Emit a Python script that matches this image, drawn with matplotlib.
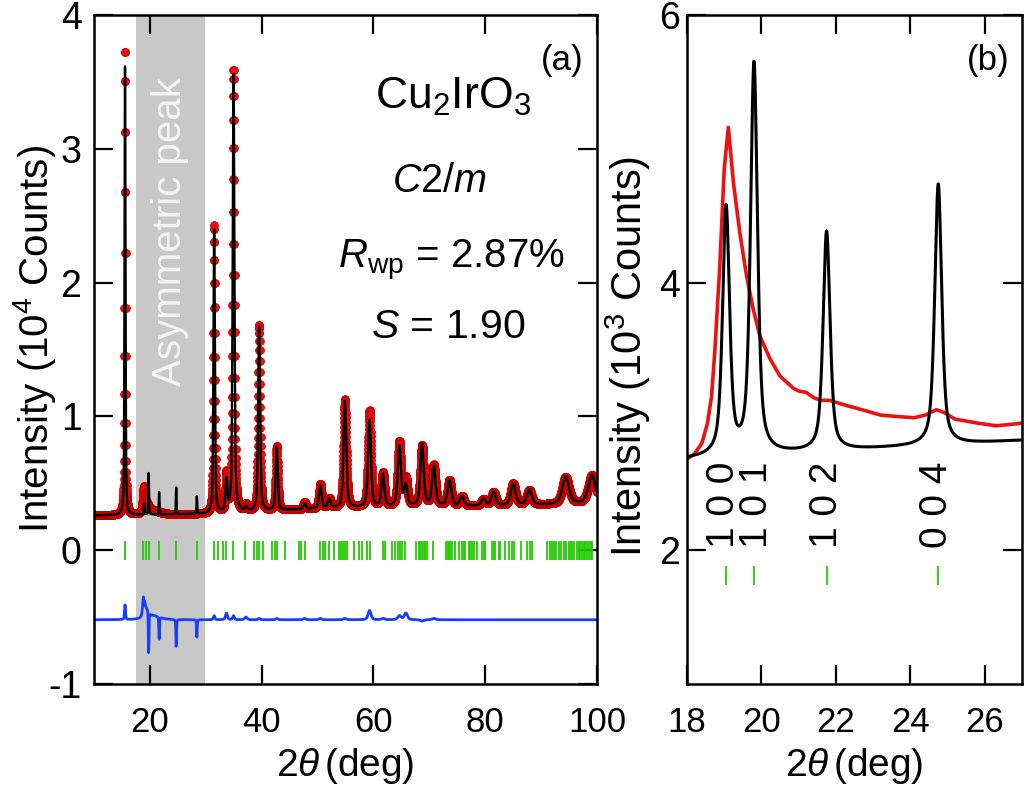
import numpy as np
import matplotlib
matplotlib.use("Agg")
import matplotlib.pyplot as plt

plt.rcParams['font.family'] = ['Liberation Sans', 'DejaVu Sans']
plt.rcParams['mathtext.fontset'] = 'custom'
plt.rcParams['mathtext.rm'] = 'Liberation Sans'
plt.rcParams['mathtext.it'] = 'Liberation Sans:italic'
plt.rcParams['mathtext.bf'] = 'Liberation Sans:bold'
plt.rcParams['axes.unicode_minus'] = False

# ---------------- Panel (a) data (units of 10^4 counts) ----------------
bg_x = [10, 20, 30, 40, 50, 60, 70, 80, 90, 100]
bg_y = [0.26, 0.265, 0.27, 0.29, 0.31, 0.32, 0.33, 0.33, 0.34, 0.35]

peak_pos = [15.55, 31.5, 33.7, 34.97, 37.2, 39.55, 42.7, 47.7, 50.5, 52.1,
            54.9, 59.3, 61.7, 64.65, 65.8, 68.7, 70.8, 73.6, 75.85, 79.7,
            81.5, 85.0, 87.9, 94.4, 99.1]
obs_amp = [3.49, 2.15, 0.28, 3.31, 0.05, 1.39, 0.48, 0.05, 0.18, 0.07,
           0.81, 0.72, 0.25, 0.48, 0.20, 0.45, 0.30, 0.19, 0.07, 0.05,
           0.10, 0.16, 0.11, 0.20, 0.21]
calc_amp = [3.38, 2.12, 0.23, 3.28, 0.03, 1.38, 0.47, 0.04, 0.17, 0.07,
            0.80, 0.65, 0.24, 0.45, 0.15, 0.46, 0.29, 0.19, 0.07, 0.05,
            0.10, 0.16, 0.11, 0.20, 0.21]
peak_fwhm = [0.20, 0.30, 0.40, 0.36, 0.50, 0.42, 0.45, 0.55, 0.55, 0.55,
             0.58, 0.62, 0.62, 0.68, 0.68, 0.70, 0.75, 0.80, 0.80, 0.90,
             0.90, 1.00, 1.00, 1.40, 1.50]

# asymmetric hump only seen in the observed data
hump_pos = [18.9, 19.4, 20.5]
hump_amp = [0.17, 0.06, 0.03]
hump_fwhm = [0.40, 0.9, 3.0]

# sharp peaks only in calculated pattern (inside shaded region)
sharp_pos = [18.95, 19.78, 21.65, 24.7, 28.4]
sharp_amp = [0.08, 0.31, 0.17, 0.20, 0.13]
sharp_fwhm = [0.15, 0.13, 0.13, 0.13, 0.13]

bragg_a = [15.55, 18.84, 19.31, 19.79, 21.64, 24.69, 28.39, 31.49, 32.27, 33.16,
           33.64, 34.96, 37.04, 38.54, 39.13, 39.61, 40.21, 41.82, 42.30, 42.72,
           44.21, 46.60, 47.07, 47.79, 50.36, 50.96, 51.37, 51.97, 52.87, 53.76,
           54.18, 54.54, 54.96, 55.25, 56.45, 57.34, 57.94, 58.84, 59.31, 61.70,
           62.12, 63.31, 63.91, 64.33, 64.69, 65.10, 65.70, 67.67, 68.09, 68.39,
           68.69, 68.99, 69.28, 69.58, 70.66, 73.04, 73.28, 73.52, 73.76, 74.06,
           74.66, 75.25, 75.85, 76.15, 76.45, 77.04, 77.34, 77.64, 77.94, 78.54,
           79.43, 79.73, 80.03, 81.22, 81.52, 81.82, 82.42, 82.72, 83.61, 84.21,
           84.81, 85.22, 86.42, 87.49, 87.97, 88.39, 91.07, 91.67, 91.97, 92.27,
           92.75, 93.16, 93.58, 94.06, 94.54, 94.96, 95.25, 95.55, 95.85, 96.45,
           96.75, 97.04, 97.34, 97.64, 97.94, 98.24, 98.54, 98.84, 99.13]

diff_offset = -0.52
shade_range = [17.5, 29.8]

# ---------------- Panel (b) data (units of 10^3 counts) ----------------
b_bg_x = [18, 27]
b_bg_y = [2.68, 2.82]
b_peak_pos = [19.05, 19.8, 21.75, 24.75]
b_peak_amp = [1.85, 2.92, 1.64, 1.95]
b_peak_fwhm = [0.22, 0.22, 0.22, 0.22]
b_hkl = ['1 0 0', '1 0 1', '1 0 2', '0 0 4']
b_hkl_x = [18.99, 19.88, 21.76, 24.72]

red_x = [18.0, 18.2, 18.4, 18.55, 18.66, 18.75, 18.88, 19.0, 19.11, 19.25,
         19.42, 19.6, 19.78, 19.96, 20.23, 20.5, 20.86, 21.0, 21.2, 21.4,
         21.6, 21.83, 22.3, 22.7, 23.2, 23.6, 24.1, 24.4, 24.7, 24.9,
         25.2, 25.4, 25.8, 26.3, 26.7, 27.0]
red_y = [2.68, 2.72, 2.80, 2.95, 3.15, 3.5, 4.12, 4.85, 5.16, 4.74,
         4.37, 4.05, 3.80, 3.60, 3.43, 3.30, 3.21, 3.19, 3.18, 3.14,
         3.12, 3.12, 3.08, 3.05, 3.01, 3.00, 2.99, 3.01, 3.05, 3.03,
         2.98, 2.97, 2.95, 2.93, 2.94, 2.95]


def pv(x, pos, amp, fwhm, eta=0.5):
    out = np.zeros_like(x)
    for p, a, w in zip(pos, amp, fwhm):
        hw = w / 2.0
        lor = 1.0 / (1.0 + ((x - p) / hw) ** 2)
        gau = np.exp(-np.log(2) * ((x - p) / hw) ** 2)
        out += a * (eta * lor + (1 - eta) * gau)
    return out


tt = np.arange(10.0, 100.0001, 0.02)
bg = np.interp(tt, bg_x, bg_y)
obs = bg + pv(tt, peak_pos, obs_amp, peak_fwhm) + pv(tt, hump_pos, hump_amp, hump_fwhm)
calc = bg + pv(tt, peak_pos, calc_amp, peak_fwhm) + pv(tt, sharp_pos, sharp_amp, sharp_fwhm)
diff = obs - calc + diff_offset

fig = plt.figure(figsize=(10.25, 7.87), dpi=100)
axa = fig.add_axes([94 / 1025, 1 - 684 / 787, (597 - 94) / 1025, (684 - 15) / 787])
axb = fig.add_axes([687 / 1025, 1 - 684 / 787, (1022 - 687) / 1025, (684 - 15) / 787])

XTICK_FS = 25
YTICK_FS = 27
XLAB_FS = 28
YLAB_FS = 29

axa.axvspan(shade_range[0], shade_range[1], color='#c8c8c8', lw=0, zorder=0)
axa.plot(tt, obs, 'o', ms=5.6, color='#ee1111', mec='#c00000', mew=0.6, zorder=2)
axa.plot(tt, calc, '-', color='black', lw=1.7, zorder=3)
axa.vlines(bragg_a, -0.075, 0.07, color='#22cc00', lw=1.3, zorder=2)
axa.plot(tt, diff, '-', color='#1a3cff', lw=2.0, zorder=2)

axa.set_xlim(10, 100)
axa.set_ylim(-1, 4)
axa.set_xticks([20, 40, 60, 80, 100])
axa.set_yticks([-1, 0, 1, 2, 3, 4])
axa.set_xlabel(r'2$\theta\,$(deg)', fontsize=XLAB_FS, labelpad=5)
axa.set_ylabel(r'Intensity (10$^4$ Counts)', fontsize=YLAB_FS)
axa.yaxis.set_label_coords(-0.072, 0.516)

axa.text(23.6, 2.385, 'Asymmetric peak', rotation=90, ha='center', va='center',
         fontsize=29, color='#f4f4f4', zorder=1)
axa.text(93.7, 3.66, '(a)', ha='center', va='center', fontsize=25)
axa.text(74.2, 3.30, r'Cu$_2$IrO$_3$', ha='center', va='baseline', fontsize=32)
axa.text(71.8, 2.68, r'$C$2/$m$', ha='center', va='baseline', fontsize=28.5)
axa.text(73.9, 2.11, r'$R_{\rm wp}$ = 2.87%', ha='center', va='baseline', fontsize=29)
axa.text(73.4, 1.585, r'$S$ = 1.90', ha='center', va='baseline', fontsize=29.5)

# ---------------- Panel (b) ----------------
bx = np.arange(18.0, 27.0001, 0.005)
black_b = np.interp(bx, b_bg_x, b_bg_y) + pv(bx, b_peak_pos, b_peak_amp, b_peak_fwhm, eta=0.6)
axb.plot(red_x, red_y, '-', color='#ee1111', lw=2.6, zorder=2)
axb.plot(bx, black_b, '-', color='black', lw=2.2, zorder=3)
axb.vlines(b_peak_pos, 1.74, 1.88, color='#22cc00', lw=1.3)
for lab, xx in zip(b_hkl, b_hkl_x):
    axb.text(xx, 2.34, lab, rotation=90, ha='center', va='center', fontsize=28)
axb.text(26.1, 5.66, '(b)', ha='center', va='center', fontsize=25)

axb.set_xlim(18, 27)
axb.set_ylim(1, 6)
axb.set_xticks([18, 20, 22, 24, 26])
axb.set_yticks([2, 4, 6])
axb.set_xlabel(r'2$\theta\,$(deg)', fontsize=XLAB_FS, labelpad=5)
axb.set_ylabel(r'Intensity (10$^3$ Counts)', fontsize=YLAB_FS + 1)
axb.yaxis.set_label_coords(-0.102, 0.49)

for ax in (axa, axb):
    for sp in ax.spines.values():
        sp.set_linewidth(1.8)
    ax.tick_params(direction='in', length=14, width=1.6, top=True, right=True)
    ax.tick_params(axis='x', pad=16, labelsize=XTICK_FS)
    ax.tick_params(axis='y', pad=9, labelsize=YTICK_FS)
axb.tick_params(axis='y', pad=5)

fig.savefig('out.png', dpi=100)
